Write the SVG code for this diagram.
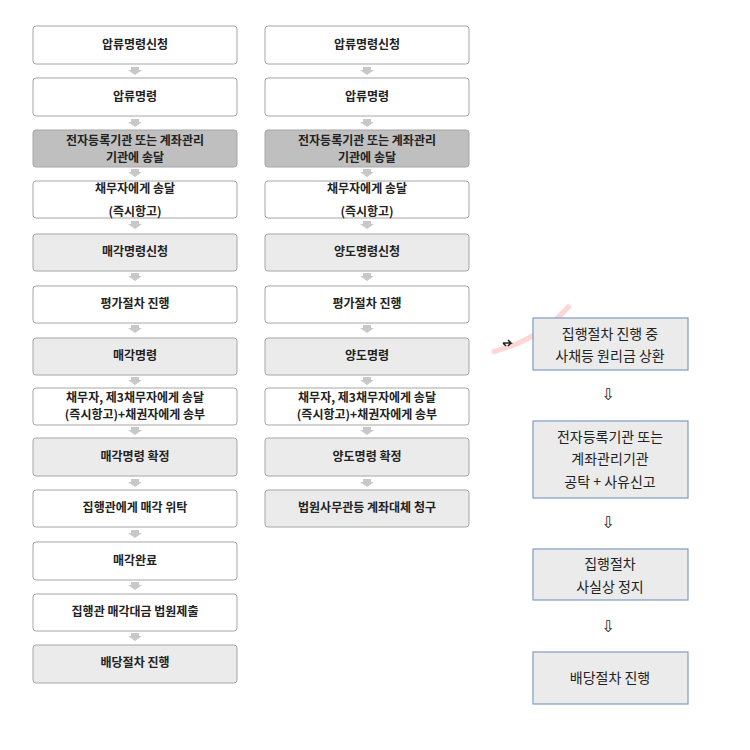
<svg xmlns="http://www.w3.org/2000/svg" width="750" height="750" viewBox="0 0 750 750">
<style>
.b{stroke:#a6a6a6;stroke-width:1;rx:3}
.w{fill:#fff}.g{fill:#bfbfbf}.l{fill:#ebebeb}
.t{font-family:"Noto Sans CJK KR","Noto Sans",sans-serif;font-size:12px;font-weight:bold;fill:#222;text-anchor:middle}
.r{fill:#ebebeb;stroke:#7f9bc4;stroke-width:1.2}
.rt{font-family:"Noto Sans CJK KR","Noto Sans",sans-serif;font-size:14px;fill:#222;text-anchor:middle}
.a{fill:#c8c8c8}
.da{font-family:"DejaVu Sans",sans-serif;font-size:16px;fill:#222;text-anchor:middle}
</style>
<defs><path id="sa" d="M-4,0h8v3h3l-7,5l-7,-5h3z"/></defs>
<rect width="750" height="750" fill="#fff"/>
<g id="connectors">
<g class="a">
<use href="#sa" x="135" y="67"/><use href="#sa" x="135" y="119"/><use href="#sa" x="135" y="169"/><use href="#sa" x="135" y="221"/><use href="#sa" x="135" y="273"/><use href="#sa" x="135" y="325"/><use href="#sa" x="135" y="377"/><use href="#sa" x="135" y="427"/><use href="#sa" x="135" y="479"/><use href="#sa" x="135" y="530"/><use href="#sa" x="135" y="582"/><use href="#sa" x="135" y="633"/>
<use href="#sa" x="367" y="67"/><use href="#sa" x="367" y="119"/><use href="#sa" x="367" y="169"/><use href="#sa" x="367" y="221"/><use href="#sa" x="367" y="273"/><use href="#sa" x="367" y="325"/><use href="#sa" x="367" y="377"/><use href="#sa" x="367" y="427"/><use href="#sa" x="367" y="479"/>
</g>
<text class="da" x="608" y="400">⇩</text>
<text class="da" x="608" y="528">⇩</text>
<text class="da" x="608" y="632">⇩</text>
<path d="M492,352 Q540,340 570,305" fill="none" stroke="#ffd6d6" stroke-width="5"/>
<path d="M503,343h8l-3,-3M511,343l-3,3M503,343l3,3" fill="none" stroke="#222" stroke-width="1.5"/>
</g>
<g id="L1"><rect class="b w" x="33" y="26" width="204" height="38"/><text class="t" x="135" y="49">압류명령신청</text></g>
<g id="L2"><rect class="b w" x="33" y="78" width="204" height="38"/><text class="t" x="135" y="101">압류명령</text></g>
<g id="L3"><rect class="b g" x="33" y="130" width="204" height="37"/><text class="t" x="135" y="145">전자등록기관 또는 계좌관리</text><text class="t" x="135" y="162">기관에 송달</text></g>
<g id="L4"><rect class="b w" x="33" y="181" width="204" height="37"/><text class="t" x="135" y="193">채무자에게 송달</text><text class="t" x="135" y="216">(즉시항고)</text></g>
<g id="L5"><rect class="b l" x="33" y="234" width="204" height="37"/><text class="t" x="135" y="256">매각명령신청</text></g>
<g id="L6"><rect class="b w" x="33" y="286" width="204" height="37"/><text class="t" x="135" y="308">평가절차 진행</text></g>
<g id="L7"><rect class="b l" x="33" y="338" width="204" height="37"/><text class="t" x="135" y="360">매각명령</text></g>
<g id="L8"><rect class="b w" x="33" y="388" width="204" height="37"/><text class="t" x="135" y="402">채무자, 제3채무자에게 송달</text><text class="t" x="135" y="419">(즉시항고)+채권자에게  송부</text></g>
<g id="L9"><rect class="b l" x="33" y="438" width="204" height="38"/><text class="t" x="135" y="461">매각명령 확정</text></g>
<g id="L10"><rect class="b w" x="33" y="490" width="204" height="37"/><text class="t" x="135" y="512">집행관에게 매각 위탁</text></g>
<g id="L11"><rect class="b w" x="33" y="542" width="204" height="38"/><text class="t" x="135" y="565">매각완료</text></g>
<g id="L12"><rect class="b w" x="33" y="594" width="204" height="37"/><text class="t" x="135" y="616">집행관 매각대금 법원제출</text></g>
<g id="L13"><rect class="b l" x="33" y="645" width="204" height="38"/><text class="t" x="135" y="667">배당절차  진행</text></g>
<g id="M1"><rect class="b w" x="265" y="26" width="204" height="38"/><text class="t" x="367" y="49">압류명령신청</text></g>
<g id="M2"><rect class="b w" x="265" y="78" width="204" height="38"/><text class="t" x="367" y="101">압류명령</text></g>
<g id="M3"><rect class="b g" x="265" y="130" width="204" height="37"/><text class="t" x="367" y="145">전자등록기관 또는 계좌관리</text><text class="t" x="367" y="162">기관에 송달</text></g>
<g id="M4"><rect class="b w" x="265" y="181" width="204" height="37"/><text class="t" x="367" y="193">채무자에게 송달</text><text class="t" x="367" y="216">(즉시항고)</text></g>
<g id="M5"><rect class="b l" x="265" y="234" width="204" height="37"/><text class="t" x="367" y="256">양도명령신청</text></g>
<g id="M6"><rect class="b w" x="265" y="286" width="204" height="37"/><text class="t" x="367" y="308">평가절차 진행</text></g>
<g id="M7"><rect class="b l" x="265" y="338" width="204" height="37"/><text class="t" x="367" y="360">양도명령</text></g>
<g id="M8"><rect class="b w" x="265" y="388" width="204" height="37"/><text class="t" x="367" y="402">채무자, 제3채무자에게 송달</text><text class="t" x="367" y="419">(즉시항고)+채권자에게  송부</text></g>
<g id="M9"><rect class="b l" x="265" y="438" width="204" height="38"/><text class="t" x="367" y="461">양도명령 확정</text></g>
<g id="M10"><rect class="b l" x="265" y="490" width="204" height="37"/><text class="t" x="367" y="512">법원사무관등 계좌대체 청구</text></g>
<g id="R1"><rect class="r" x="533" y="318" width="155" height="52"/><text class="rt" x="610" y="339">집행절차 진행 중</text><text class="rt" x="610" y="361">사채등 원리금 상환</text></g>
<g id="R2"><rect class="r" x="533" y="421" width="155" height="77"/><text class="rt" x="610" y="442">전자등록기관 또는</text><text class="rt" x="610" y="464">계좌관리기관</text><text class="rt" x="610" y="487">공탁 + 사유신고</text></g>
<g id="R3"><rect class="r" x="533" y="549" width="155" height="51"/><text class="rt" x="610" y="569">집행절차</text><text class="rt" x="610" y="592">사실상 정지</text></g>
<g id="R4"><rect class="r" x="533" y="652" width="155" height="52"/><text class="rt" x="610" y="683">배당절차 진행</text></g>
</svg>
